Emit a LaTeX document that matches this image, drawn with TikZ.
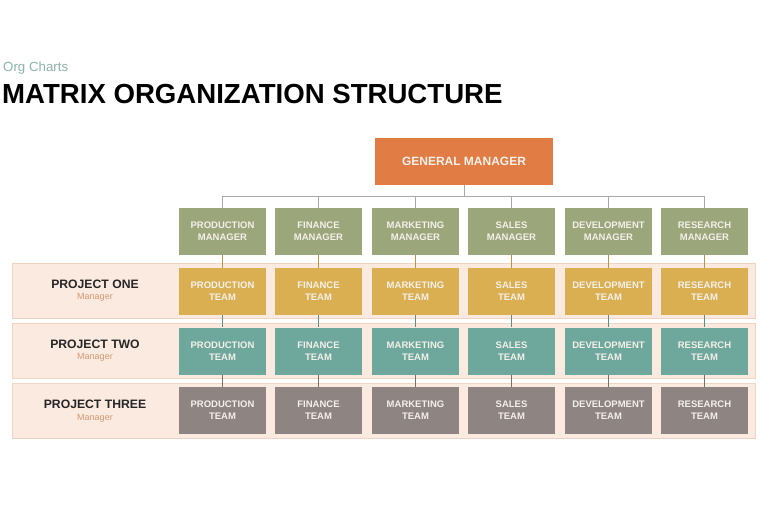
\documentclass[tikz,border=0pt]{standalone}
\usepackage{fontspec}
\setmainfont{Liberation Sans}
\definecolor{gmorange}{HTML}{E07C44}
\definecolor{mgrgreen}{HTML}{9CA67B}
\definecolor{teamgold}{HTML}{D9AF52}
\definecolor{teamteal}{HTML}{6EA79B}
\definecolor{teamgray}{HTML}{8E8482}
\definecolor{bandfill}{HTML}{FBEAE0}
\definecolor{bandline}{HTML}{F0D3C2}
\definecolor{linegray}{HTML}{A8A8A8}
\definecolor{subtitle}{HTML}{8DB3AA}
\definecolor{mgrtext}{HTML}{D19A72}
\definecolor{boxtext}{HTML}{F4F0EA}
\tikzset{
  box/.style={minimum width=87pt, minimum height=47pt, inner sep=1pt, align=center,
    text=boxtext, font=\fontsize{9.5}{11.8}\selectfont\bfseries},
  mgrbox/.style={box, fill=mgrgreen},
  goldbox/.style={box, fill=teamgold},
  tealbox/.style={box, fill=teamteal},
  graybox/.style={box, fill=teamgray},
  band/.style={fill=bandfill, draw=bandline, line width=0.8pt, minimum width=743pt, minimum height=55pt, inner sep=0pt},
  conn/.style={draw=linegray, line width=1pt},
  projlabel/.style={font=\fontsize{12.2}{14}\selectfont\bfseries, text=black!85},
  projsub/.style={font=\fontsize{9}{10}\selectfont, text=mgrtext}
}
\begin{document}
\begin{tikzpicture}[x=1pt,y=-1pt]
\useasboundingbox (0,0) rectangle (768,511);
\fill[white] (0,0) rectangle (768,511);
% titles
\node[anchor=west, inner sep=0pt, text=subtitle, font=\fontsize{13.3}{15}\selectfont] (sub) at (3,68) {Org Charts};
\node[anchor=west, inner sep=0pt, font=\fontsize{27.6}{30}\selectfont\bfseries] (title) at (2,94) {MATRIX ORGANIZATION STRUCTURE};
% bands
\node[band] (b1) at (383.5,291) {};
\node[band] (b2) at (383.5,350.5) {};
\node[band] (b3) at (383.5,410.5) {};
\node[projlabel] (p1) at (95,284.5) {PROJECT ONE};
\node[projsub] (p1m) at (95,297.5) {Manager};
\node[projlabel] (p2) at (95,344.5) {PROJECT TWO};
\node[projsub] (p2m) at (95,357.5) {Manager};
\node[projlabel] (p3) at (95,404.5) {PROJECT THREE};
\node[projsub] (p3m) at (95,418) {Manager};
% general manager
\node[box, fill=gmorange, minimum width=178pt, minimum height=47pt, font=\fontsize{12}{14}\selectfont\bfseries] (gm) at (464,161.5) {GENERAL MANAGER};
\coordinate (hub) at (464,196);
% columns
\foreach \i/\x/\name in {1/222.5/PRODUCTION,2/318.5/FINANCE,3/415.5/MARKETING,4/511.5/SALES,5/608.5/DEVELOPMENT,6/704.5/RESEARCH}{
  \coordinate (h\i) at (\x,196);
  \node[mgrbox] (m\i) at (\x,231.5) {\name\\MANAGER};
  \node[goldbox] (t1\i) at (\x,291.5) {\name\\TEAM};
  \node[tealbox] (t2\i) at (\x,351) {\name\\TEAM};
  \node[graybox] (t3\i) at (\x,410.5) {\name\\TEAM};
}
% connectors
\draw[conn] (gm.south) -- (hub);
\draw[conn] (h1) -- (h6);
\foreach \i in {1,...,6}{
  \draw[conn] (h\i) -- (m\i.north);
  \draw[conn, draw=teamgold!85!black] (m\i.south) -- (t1\i.north);
  \draw[conn, draw=teamteal!85!black] (t1\i.south) -- (t2\i.north);
  \draw[conn, draw=teamgray!85!black] (t2\i.south) -- (t3\i.north);
}
\end{tikzpicture}
\end{document}
